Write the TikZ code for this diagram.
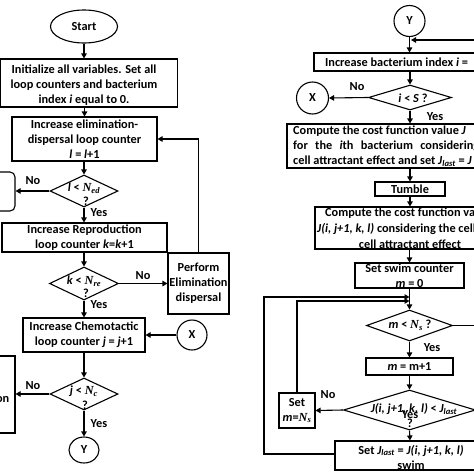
\documentclass[tikz,border=0pt]{standalone}
\usepackage{fontspec}
\setmainfont{Carlito}
\newfontfamily\tmsfont{Liberation Serif}
\usetikzlibrary{arrows.meta,shapes.geometric}
\newcommand\Nsub[1]{{\tmsfont\itshape N}\textsubscript{\tmsfont\itshape #1}}
\newcommand\Jlast{\textit{J}\textsubscript{\textit{last}}}
\tikzset{
  every node/.style={font=\fontsize{12.3}{15}\selectfont\bfseries, inner sep=0pt},
  box/.style={draw, line width=1.1pt, rectangle, align=center},
  rbox/.style={draw, line width=1.1pt, rectangle, rounded corners=5pt},
  dia/.style={draw, line width=1.1pt, diamond},
  circ/.style={draw, line width=1.1pt, circle},
  oval/.style={draw, line width=1.1pt, ellipse},
  arr/.style={line width=1.1pt, -{Triangle[length=5pt,width=5.5pt]}},
  ln/.style={line width=1.1pt},
  lbl/.style={align=center},
}
\begin{document}
\begin{tikzpicture}[x=1pt,y=-1pt]
\useasboundingbox (0,0) rectangle (474,474);
\fill[white] (0,0) rectangle (474,474);
\clip (0,0) rectangle (474,474);

% ---------------- left panel ----------------
\node[oval, minimum width=67pt, minimum height=33pt] (start) at (84,26.5) {Start};
\node[box, minimum width=176.5pt, minimum height=48pt] (init) at (88.8,83) {};
\node[lbl] (initt) at (84,85) {Initialize all variables. Set all\\loop counters and bacterium\\index \textit{i} equal to 0.};
\node[box, minimum width=145pt, minimum height=44pt] (b2) at (84.5,139) {Increase elimination-\\dispersal loop counter\\\textit{l} = \textit{l}+1};
\node[dia, minimum width=68pt, minimum height=32pt] (d1) at (84,191) {};
\node (d1t) at (84,188) {\textit{l} < \Nsub{ed}};
\node (d1q) at (86,201) {?};
\node[rbox, minimum width=45pt, minimum height=39pt] (lb1) at (-7.5,191.5) {};
\node[box, minimum width=165pt, minimum height=29pt] (b3) at (84.5,237.5) {Increase Reproduction\\loop counter \textit{k}=\textit{k}+1};
\node[dia, minimum width=69pt, minimum height=33pt] (d2) at (84,283.5) {};
\node (d2t) at (84,281) {\textit{k} < \Nsub{re}};
\node (d2q) at (86,293) {?};
\node[box, minimum width=61pt, minimum height=61pt] (perf) at (198.5,283.5) {Perform\\Elimination\\dispersal};
\node[box, minimum width=122pt, minimum height=34pt] (b4) at (84,335) {Increase Chemotactic\\loop counter \textit{j} = \textit{j}+1};
\node[circ, minimum size=30pt] (x1) at (192,335) {X};
\node[dia, minimum width=68pt, minimum height=32pt] (d3) at (84,394) {};
\node (d3t) at (84,391) {\textit{j} < \Nsub{c}};
\node (d3q) at (85,405) {?};
\node[box, minimum width=75pt, minimum height=77pt] (lb2) at (-22.5,394.5) {};
\node[anchor=east] (lb2t) at (9.5,400) {on};
\node[oval, minimum width=30pt, minimum height=26pt] (y1) at (84,450) {Y};

\draw[arr] (start) -- (start |- init.north);
\draw[arr] (b2.north |- init.south) -- (b2.north);
\draw[arr] (b2.south -| d1.north) -- (d1.north);
\draw[arr] (d1.west) -- (lb1.east |- d1.west);
\draw[arr] (d1.south) -- (d1.south |- b3.north);
\draw[arr] (d1.south |- b3.south) -- (d2.north);
\draw[arr] (d2.east) -- (perf.west |- d2.east);
\draw[arr] (perf.north) -- (perf.north |- b2.east) -- (b2.east);
\draw[arr] (d2.south) -- (d2.south |- b4.north);
\draw[arr] (x1.west) -- (b4.east);
\draw[arr] (b4.south) -- (d3.north);
\draw[arr] (d3.west) -- (lb2.east |- d3.west);
\draw[arr] (d3.south) -- (y1.north);

\node (n1) at (33,181) {No};
\node (y1l) at (99,213) {Yes};
\node (n2) at (143,276) {No};
\node (y2l) at (99,305) {Yes};
\node (n3) at (33,386) {No};
\node (y3l) at (99,424) {Yes};

% ---------------- right panel ----------------
\node[circ, minimum size=31pt] (y2) at (409.5,21) {Y};
\node[box, minimum width=192pt, minimum height=18pt] (r1) at (410,62) {};
\node[anchor=west] (r1t) at (325,62) {Increase bacterium index \textit{i} =};
\coordinate (rin) at (480,40);
\coordinate (rjoin) at (411,40);
\draw[arr] (rin) -- (rjoin);
\draw[arr] (y2.south) -- (y2.south |- r1.north);

\node[dia, minimum width=83pt, minimum height=25pt] (d4) at (410,97.5) {};
\node (d4t) at (413,98) {\textit{i} < \textit{S} ?};
\node[circ, minimum size=32pt] (x2) at (312.5,98) {X};
\draw[arr] (r1.south -| d4.north) -- (d4.north);
\draw[arr] (d4.west) -- (x2.east);
\node (n4) at (357,87) {No};
\node (y4l) at (435,117) {Yes};

\node[box, minimum width=246pt, minimum height=44pt] (r3) at (410,146) {};
\node[anchor=west] (r3a) at (293,131) {Compute the cost function value \textit{J}};
\node[anchor=west] (r3b) at (293,146) {\makebox[186pt][s]{for the \textit{i}th bacterium considering}};
\node[anchor=west] (r3c) at (293,161) {cell attractant effect and set \Jlast{} = \textit{J}};
\draw[arr] (d4.south) -- (r3.north);

\node[box, minimum width=70pt, minimum height=14pt] (tum) at (410,189) {Tumble};
\draw[arr] (r3.south) -- (tum.north);

\node[box, minimum width=190pt, minimum height=42pt] (r5) at (410,228) {};
\node[anchor=west] (r5a) at (325,213) {Compute the cost function value};
\node[anchor=west] (r5b) at (317,229) {\textit{J(i, j+1, k, l)} considering the cell};
\node (r5c) at (410,244) {cell attractant effect};
\draw[arr] (tum.south) -- (r5.north);

\node[box, minimum width=109pt, minimum height=25pt] (r6) at (409.5,275.5) {Set swim counter\\\textit{m} = 0};
\draw[arr] (r5.south) -- (r6.south |- r5.south) -- (r6.north);

\node[dia, minimum width=86pt, minimum height=31pt] (d5) at (409.5,325.5) {};
\node (d5t) at (410,325) {\textit{m} < \Nsub{s} ?};
\draw[arr] (r6.south) -- (d5.north);
\coordinate (rout) at (480,325.5);
\draw[ln] (d5.east) -- (rout);
\node (y5l) at (432,348) {Yes};

\node[box, minimum width=87pt, minimum height=17pt] (r8) at (409.5,366.5) {\textit{m} = m+1};
\draw[arr] (d5.south) -- (r8.north);

\node[dia, minimum width=132pt, minimum height=40pt] (d6) at (409.5,410) {};
\node (d6t) at (414,409) {\textit{J(i, j+1, k, l)} < \Jlast};
\node (d6q) at (410,423) {?};
\node (y6l) at (410,415) {Yes};
\draw[arr] (r8.south) -- (d6.north);

\node[box, minimum width=36pt, minimum height=35pt] (setm) at (297,410.5) {Set\\\textit{m}=\Nsub{s}};
\draw[arr] (d6.west) -- (setm.east);
\node (n6) at (328,395) {No};

\node[box, minimum width=150pt, minimum height=29pt] (r10) at (410,455.5) {};
\node[lbl] (r10t) at (411,457) {Set \Jlast{} = \textit{J(i, j+1, k, l)}\\swim};
\draw[arr] (d6.south) -- (r10.north);

\coordinate (ja) at (409.5,297);
\coordinate (jb) at (409.5,301);
\draw[arr] (r10.west |- 0,454) -- (264,454) -- (264,297) -- (ja);
\draw[arr] (setm.north) -- (297,301) -- (jb);
\end{tikzpicture}
\end{document}
